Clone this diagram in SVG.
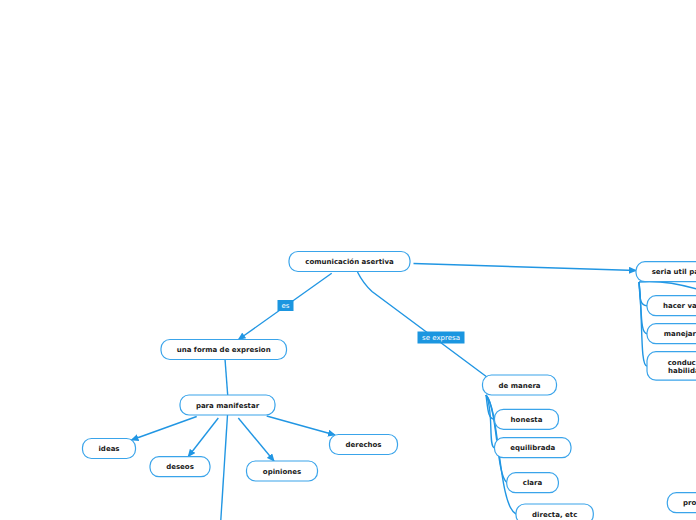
<svg xmlns="http://www.w3.org/2000/svg" width="696" height="520" viewBox="0 0 696 520">
<style>
.n rect{fill:#fff;stroke:#3aa4ea;stroke-width:1.2}
.n text{font-family:"DejaVu Sans",Verdana,sans-serif;font-weight:bold;font-size:7px;fill:#1a1a1a;text-anchor:middle}
.n text.l{text-anchor:start}
.c path{fill:none;stroke:#2196e3;stroke-width:1.4}
.c path.a{marker-end:url(#ah)}
.lb rect{fill:#1b96e0}
.lb text{font-family:"DejaVu Sans",Verdana,sans-serif;font-size:7px;fill:#fff;text-anchor:middle}
</style>
<defs>
<marker id="ah" markerUnits="userSpaceOnUse" markerWidth="8" markerHeight="7" refX="7" refY="3.5" orient="auto">
<path d="M0,0 L8,3.5 L0,7 z" fill="#2196e3"/>
</marker>
</defs>
<rect width="696" height="520" fill="#fff"/>
<g id="connectors" class="c">
<path class="a" d="M331.7,273.3 L238.5,339.5"/>
<path d="M357.5,272 C362,281 366,286 372,291.5 L495,383"/>
<path class="a" d="M413.5,263.5 L636,270.5"/>
<path d="M225,359 L227.7,395"/>
<path d="M227.5,415 L220.5,525"/>
<path class="a" d="M196.7,416.5 L131.5,440"/>
<path class="a" d="M218.3,418 L188.3,456.5"/>
<path class="a" d="M238.3,418 L274,461"/>
<path class="a" d="M266.7,416 L335,435"/>
<path d="M486,395 C488,410 488,419 494.5,419.3"/>
<path d="M486,395 C494,410 488,447.7 494.5,447.7"/>
<path d="M486,395 C498,410 496,475 507,482.7"/>
<path d="M486,395 C500,410 498,505 516,514"/>
<path d="M639,282 C660,280 680,284 700,290"/>
<path d="M639,282 C640,300 640,305.7 647,305.7"/>
<path d="M639,282 C642,310 640,333.7 647,333.7"/>
<path d="M639,282 C643,320 640,366 647,366"/>
</g>
<g id="label-es" class="lb"><rect x="277.5" y="300" width="16" height="11"/><text x="285.5" y="308">es</text></g>
<g id="label-se-expresa" class="lb"><rect x="417.5" y="331.5" width="47" height="12"/><text x="441" y="340">se expresa</text></g>
<g id="n-comunicacion" class="n"><rect x="289" y="251.5" width="121" height="20" rx="9"/><text x="349.5" y="264">comunicación asertiva</text></g>
<g id="n-una-forma" class="n"><rect x="161" y="339.5" width="125.5" height="20" rx="9"/><text x="223.7" y="352">una forma de expresion</text></g>
<g id="n-para-manifestar" class="n"><rect x="180" y="395" width="95" height="20" rx="9"/><text x="227.5" y="407.5">para manifestar</text></g>
<g id="n-ideas" class="n"><rect x="82.5" y="438.5" width="53" height="20" rx="9"/><text x="109" y="451">ideas</text></g>
<g id="n-deseos" class="n"><rect x="150" y="456.7" width="60" height="20" rx="9"/><text x="180" y="469.2">deseos</text></g>
<g id="n-opiniones" class="n"><rect x="246.5" y="461" width="71" height="20" rx="9"/><text x="282" y="473.5">opiniones</text></g>
<g id="n-derechos" class="n"><rect x="329.5" y="434.5" width="68" height="20" rx="9"/><text x="363.5" y="447">derechos</text></g>
<g id="n-seria-util" class="n"><rect x="636" y="261.7" width="120" height="20" rx="9"/><text class="l" x="651.7" y="274.2">seria util pa</text></g>
<g id="n-hacer" class="n"><rect x="647" y="295.7" width="100" height="20" rx="9"/><text class="l" x="663" y="308.2">hacer va</text></g>
<g id="n-manejar" class="n"><rect x="647" y="323.7" width="100" height="20" rx="9"/><text class="l" x="663.7" y="336.2">manejar</text></g>
<g id="n-conduc" class="n"><rect x="647" y="351.7" width="100" height="28.5" rx="9"/><text class="l" x="667.7" y="364.8">conduc</text><text class="l" x="668" y="373.2">habilida</text></g>
<g id="n-de-manera" class="n"><rect x="482.5" y="375" width="74" height="20" rx="9"/><text x="519.5" y="387.5">de manera</text></g>
<g id="n-honesta" class="n"><rect x="494.5" y="409.3" width="64" height="20" rx="9"/><text x="526.5" y="421.8">honesta</text></g>
<g id="n-equilibrada" class="n"><rect x="494.5" y="437.7" width="76.5" height="20" rx="9"/><text x="532.7" y="450.2">equilibrada</text></g>
<g id="n-clara" class="n"><rect x="506.7" y="472.7" width="51.7" height="20" rx="9"/><text x="532.5" y="485.2">clara</text></g>
<g id="n-directa" class="n"><rect x="516" y="504" width="77.3" height="20" rx="9"/><text x="554.7" y="516.8">directa, etc</text></g>
<g id="n-pro" class="n"><rect x="667.3" y="492.7" width="80" height="20" rx="9"/><text class="l" x="683" y="505.2">pro</text></g>
</svg>
